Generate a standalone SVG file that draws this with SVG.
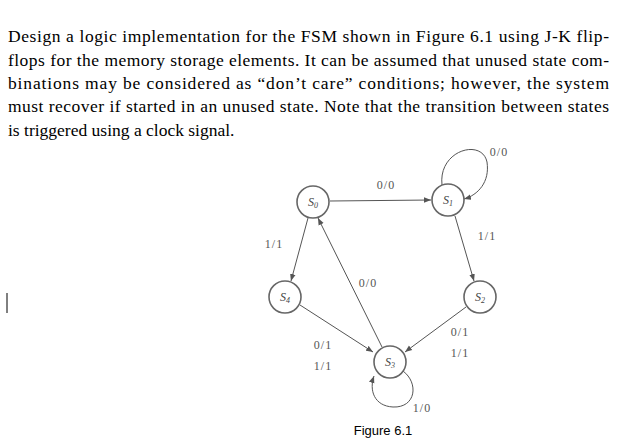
<svg xmlns="http://www.w3.org/2000/svg" width="629" height="448" viewBox="0 0 629 448">
<style>
.p{font-family:"Liberation Serif","Times New Roman",serif;font-size:17.5px;fill:#000}
.l{font-family:"Liberation Serif",serif;font-size:12px;fill:#555;text-anchor:middle;letter-spacing:1px}
.n circle{fill:#fff;stroke:#666;stroke-width:1.6}
.n text{font-family:"Liberation Serif",serif;font-style:italic;font-size:12px;fill:#444;text-anchor:middle}
.e{fill:none;stroke:#555;stroke-width:1}
</style>
<defs><marker id="a" viewBox="0 0 10 10" refX="10" refY="5" markerWidth="7" markerHeight="7" orient="auto"><path d="M0,1 L10,5 L0,9 z" fill="#555"/></marker></defs>
<rect width="629" height="448" fill="#fff"/>
<text class="p" x="8" y="42" textLength="601" lengthAdjust="spacing">Design a logic implementation for the FSM shown in Figure 6.1 using J-K flip-</text>
<text class="p" x="8" y="66" textLength="601" lengthAdjust="spacing">flops for the memory storage elements. It can be assumed that unused state com-</text>
<text class="p" x="8" y="89" textLength="601" lengthAdjust="spacing">binations may be considered as “don’t care” conditions; however, the system</text>
<text class="p" x="8" y="112" textLength="601" lengthAdjust="spacing">must recover if started in an unused state. Note that the transition between states</text>
<text class="p" x="8" y="136">is triggered using a clock signal.</text>
<line x1="7" y1="293" x2="7" y2="313" stroke="#000" stroke-width="1"/>
<g id="connectors">
<line class="e" x1="330" y1="201" x2="431" y2="200" marker-end="url(#a)"/>
<path class="e" d="M442,185 C438,150 482,138 487,162 C490,182 478,195 464,199" marker-end="url(#a)"/>
<line class="e" x1="455" y1="216" x2="474" y2="281" marker-end="url(#a)"/>
<line class="e" x1="308" y1="218" x2="291" y2="281" marker-end="url(#a)"/>
<line class="e" x1="300" y1="305" x2="373" y2="352" marker-end="url(#a)"/>
<line class="e" x1="466" y1="307" x2="405" y2="352" marker-end="url(#a)"/>
<line class="e" x1="382" y1="347" x2="318" y2="218" marker-end="url(#a)"/>
<path class="e" d="M403,371 C419,383 416,408 393,407 C374,406 369,390 374,376" marker-end="url(#a)"/>
</g>
<g id="S0" class="n"><circle cx="313" cy="202" r="16"/><text x="313" y="206">S<tspan font-size="8" dy="2">0</tspan></text></g>
<g id="S1" class="n"><circle cx="448" cy="200" r="16"/><text x="448" y="204">S<tspan font-size="8" dy="2">1</tspan></text></g>
<g id="S2" class="n"><circle cx="480" cy="297" r="16"/><text x="480" y="301">S<tspan font-size="8" dy="2">2</tspan></text></g>
<g id="S3" class="n"><circle cx="390" cy="362" r="16"/><text x="390" y="366">S<tspan font-size="8" dy="2">3</tspan></text></g>
<g id="S4" class="n"><circle cx="285" cy="297" r="16"/><text x="285" y="301">S<tspan font-size="8" dy="2">4</tspan></text></g>
<g id="labels">
<text class="l" x="386" y="189">0/0</text>
<text class="l" x="499" y="156">0/0</text>
<text class="l" x="487" y="240">1/1</text>
<text class="l" x="274" y="248">1/1</text>
<text class="l" x="368" y="287">0/0</text>
<text class="l" x="323" y="349">0/1</text>
<text class="l" x="323" y="370">1/1</text>
<text class="l" x="460" y="336">0/1</text>
<text class="l" x="460" y="357">1/1</text>
<text class="l" x="422" y="412">1/0</text>
<text x="383" y="435" font-family="Liberation Sans,sans-serif" font-size="13" text-anchor="middle">Figure 6.1</text>
</g>
</svg>
